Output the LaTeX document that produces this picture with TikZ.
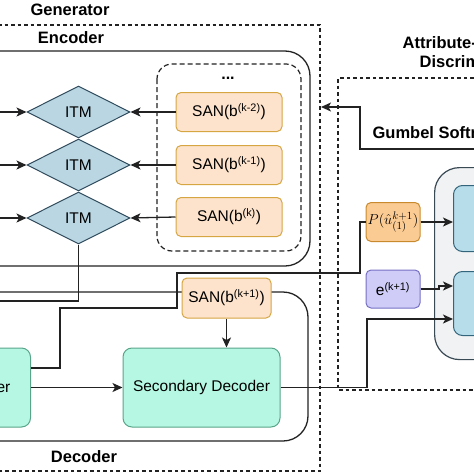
\documentclass[tikz,border=0pt]{standalone}
\usepackage{fontspec}
\setmainfont{Liberation Sans}
\usetikzlibrary{shapes.geometric,arrows.meta}
\definecolor{itmF}{HTML}{B9D6E2}
\definecolor{itmD}{HTML}{2E4B5E}
\definecolor{sanF}{HTML}{FDE3CC}
\definecolor{sanD}{HTML}{D6A643}
\definecolor{pF}{HTML}{FACB93}
\definecolor{pD}{HTML}{C98A2E}
\definecolor{eF}{HTML}{CFCDF7}
\definecolor{eD}{HTML}{7670C4}
\definecolor{bbF}{HTML}{B8DDEA}
\definecolor{bbD}{HTML}{33657D}
\definecolor{gyF}{HTML}{F0F2F3}
\definecolor{gyD}{HTML}{3A4A55}
\definecolor{sdF}{HTML}{B5F7E2}
\definecolor{sdD}{HTML}{5AA58A}
\definecolor{ln}{HTML}{222222}
\begin{document}
\begin{tikzpicture}[x=1pt,y=-1pt,line width=1.3pt,draw=ln,
  lbl/.style={font=\fontsize{15.5}{18}\selectfont,text=black},
  ttl/.style={font=\fontsize{16.5}{19}\selectfont\bfseries,text=black},
  itm/.style={diamond,aspect=2,minimum width=103pt,minimum height=52pt,inner sep=0pt,draw=itmD,fill=itmF,line width=1pt,lbl},
  san/.style={rectangle,rounded corners=5pt,draw=sanD,fill=sanF,minimum width=106pt,minimum height=39pt,inner sep=0pt,line width=1pt,lbl},
  pbox/.style={rectangle,rounded corners=5pt,draw=pD,fill=pF,minimum width=54pt,minimum height=39pt,inner sep=0pt,line width=1pt,lbl},
  ebox/.style={rectangle,rounded corners=5pt,draw=eD,fill=eF,minimum width=54pt,minimum height=38pt,inner sep=0pt,line width=1pt,lbl},
  dec/.style={rectangle,rounded corners=9pt,draw=sdD,fill=sdF,inner sep=0pt,line width=1pt,lbl},
  blueb/.style={rectangle,rounded corners=9pt,draw=bbD,fill=bbF,inner sep=0pt,line width=1pt},
  arr/.style={-{Stealth[length=10pt,width=9pt,inset=2.5pt]}},
  gdash/.style={dash pattern=on 3.5pt off 3pt,line width=1.2pt},
  idash/.style={dash pattern=on 5pt off 3pt,line width=1.2pt}]
\useasboundingbox (0,0) rectangle (474,474);
\clip (0,0) rectangle (474,474);

% titles
\node[ttl] (tgen) at (70,10) {Generator};
\node[ttl] (tenc) at (71,38) {Encoder};
\node[ttl] (tdec) at (84,457) {Decoder};
\node[ttl,anchor=west,inner sep=0pt] (tgum) at (372,133) {Gumbel Softmax};
\node[ttl,anchor=west,inner sep=0pt] (tatt1) at (402,43) {Attribute-aware};
\node[ttl,anchor=west,inner sep=0pt] (tatt2) at (419,62) {Discriminator};

% dashed frames
\draw[gdash] (-2,25) -- (320,25) -- (320,471) -- (-2,471);
\draw[gdash] (480,78) -- (338,78) -- (338,390) -- (480,390);

% encoder / decoder frames
\draw[rounded corners=25pt] (-5,51) -- (310,51) -- (310,266) -- (-5,266);
\draw[idash,rounded corners=15pt] (157,64) rectangle (301,251);
\draw[rounded corners=25pt] (-5,292) -- (308,292) -- (308,441) -- (-5,441);

% right gray box
\node[rectangle,rounded corners=25pt,draw=gyD,fill=gyF,line width=1.2pt,minimum width=80pt,minimum height=192pt,anchor=north west] (gum) at (434,167) {};
\node[blueb,minimum width=60pt,minimum height=66pt,anchor=north west] (d1) at (453,185) {};
\node[blueb,minimum width=60pt,minimum height=64pt,anchor=north west] (d2) at (453,271) {};

% ITM diamonds
\node[itm] (itm1) at (78.5,112) {ITM};
\node[itm] (itm2) at (78.5,165) {ITM};
\node[itm] (itm3) at (78.5,218) {ITM};

% SAN boxes
\node[font=\fontsize{16}{16}\selectfont\bfseries,anchor=base] (dots) at (228,79) {...};
\node[san] (s1) at (229,112) {SAN(b\textsuperscript{(k-2)})};
\node[san] (s2) at (229,165) {SAN(b\textsuperscript{(k-1)})};
\node[san] (s3) at (229,217) {SAN(b\textsuperscript{(k)})};

% left inputs
\coordinate (in1) at (0,112);
\coordinate (in2) at (0,165);
\coordinate (in3) at (0,218);
\draw[arr] (in1) -- (itm1.west);
\draw[arr] (in2) -- (itm2.west);
\draw[arr] (in3) -- (itm3.west);
\draw[arr] (s1.west) -- (itm1.east);
\draw[arr] (s2.west) -- (itm2.east);
\draw[arr] (s3.west) -- (itm3.east);

% ITM output
\coordinate (o1) at (0,301);
\draw (itm3.south) |- (o1);

% decoders
\node[dec,minimum width=150pt,minimum height=79pt,anchor=east] (PD) at (31,387.5) {};
\node[lbl,anchor=east,inner sep=0pt] (pdt) at (11,388) {Primary Decoder};
\node[dec,minimum width=157pt,minimum height=79pt] (SD) at (201.5,387.5) {Secondary Decoder};

% SAN(k+1)
\node[san,minimum width=89pt,minimum height=40pt] (sk) at (226.5,298) {SAN(b\textsuperscript{(k+1)})};

% P and e boxes
\node[pbox] (P) at (393,222) {$P(\hat{u}^{k+1}_{(1)})$};
\node[ebox] (E) at (393,289) {e\textsuperscript{(k+1)}};

% connectors
\coordinate (c1) at (60,308);
\coordinate (c2) at (177,273);
\coordinate (c3) at (360,222);
\draw ([yshift=19.5pt]PD.east) -| (c1) -| (c2) -| (c3) -- (P.west);
\draw[arr] (PD.east) -- (SD.west);
\draw[arr] (sk.south) -- (sk.south |- SD.north);
\coordinate (sj) at (367,319);
\draw[arr] (SD.east) -| (sj) -- (sj -| d2.west);
\draw[arr] (P.east) -- (P.east -| d1.west);
\coordinate (ej) at (439,286);
\draw[arr] (E.east) -| (ej) -- (ej -| d2.west);
\coordinate (g0) at (476,149);
\coordinate (g1) at (360,107);
\coordinate (g2) at (321,107);
\draw[arr] (g0) -| (g1) -- (g2);
\end{tikzpicture}
\end{document}
